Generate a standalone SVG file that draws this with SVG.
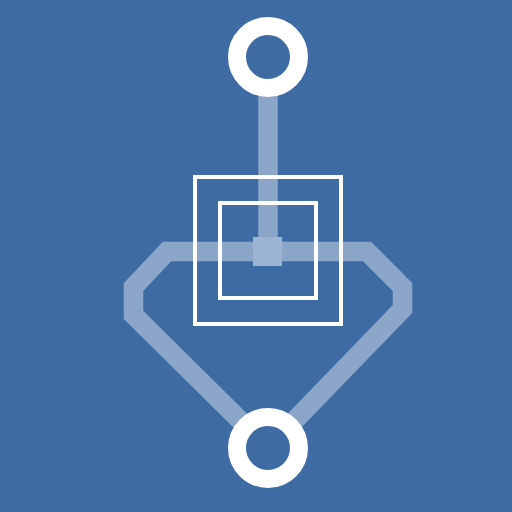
<svg xmlns="http://www.w3.org/2000/svg" width="512" height="512" viewBox="0 0 512 512">
<style>
.wire{fill:none;stroke:#8ba6c8;stroke-width:19.5;stroke-linejoin:miter}
.box{fill:none;stroke:#ffffff;stroke-width:4}
.ring{fill:#3e6ba4;stroke:#ffffff;stroke-width:18}
</style>
<rect width="512" height="512" fill="#3e6ba4"/>
<g id="connectors">
<path class="wire" d="M268 57 V251"/>
<path class="wire" d="M268 448 L133.5 315 V287 L167 251.5 H367 L402.5 287 V309 L268 448"/>
</g>
<g id="outer-box"><rect class="box" x="195" y="177" width="146" height="147"/></g>
<g id="inner-box"><rect class="box" x="220" y="203" width="96" height="95"/></g>
<g id="center"><rect x="253" y="237" width="29" height="29" fill="#9cb3d2"/></g>
<g id="top-node"><circle class="ring" cx="268" cy="57" r="31"/></g>
<g id="bottom-node"><circle class="ring" cx="268" cy="448" r="31"/></g>
</svg>
